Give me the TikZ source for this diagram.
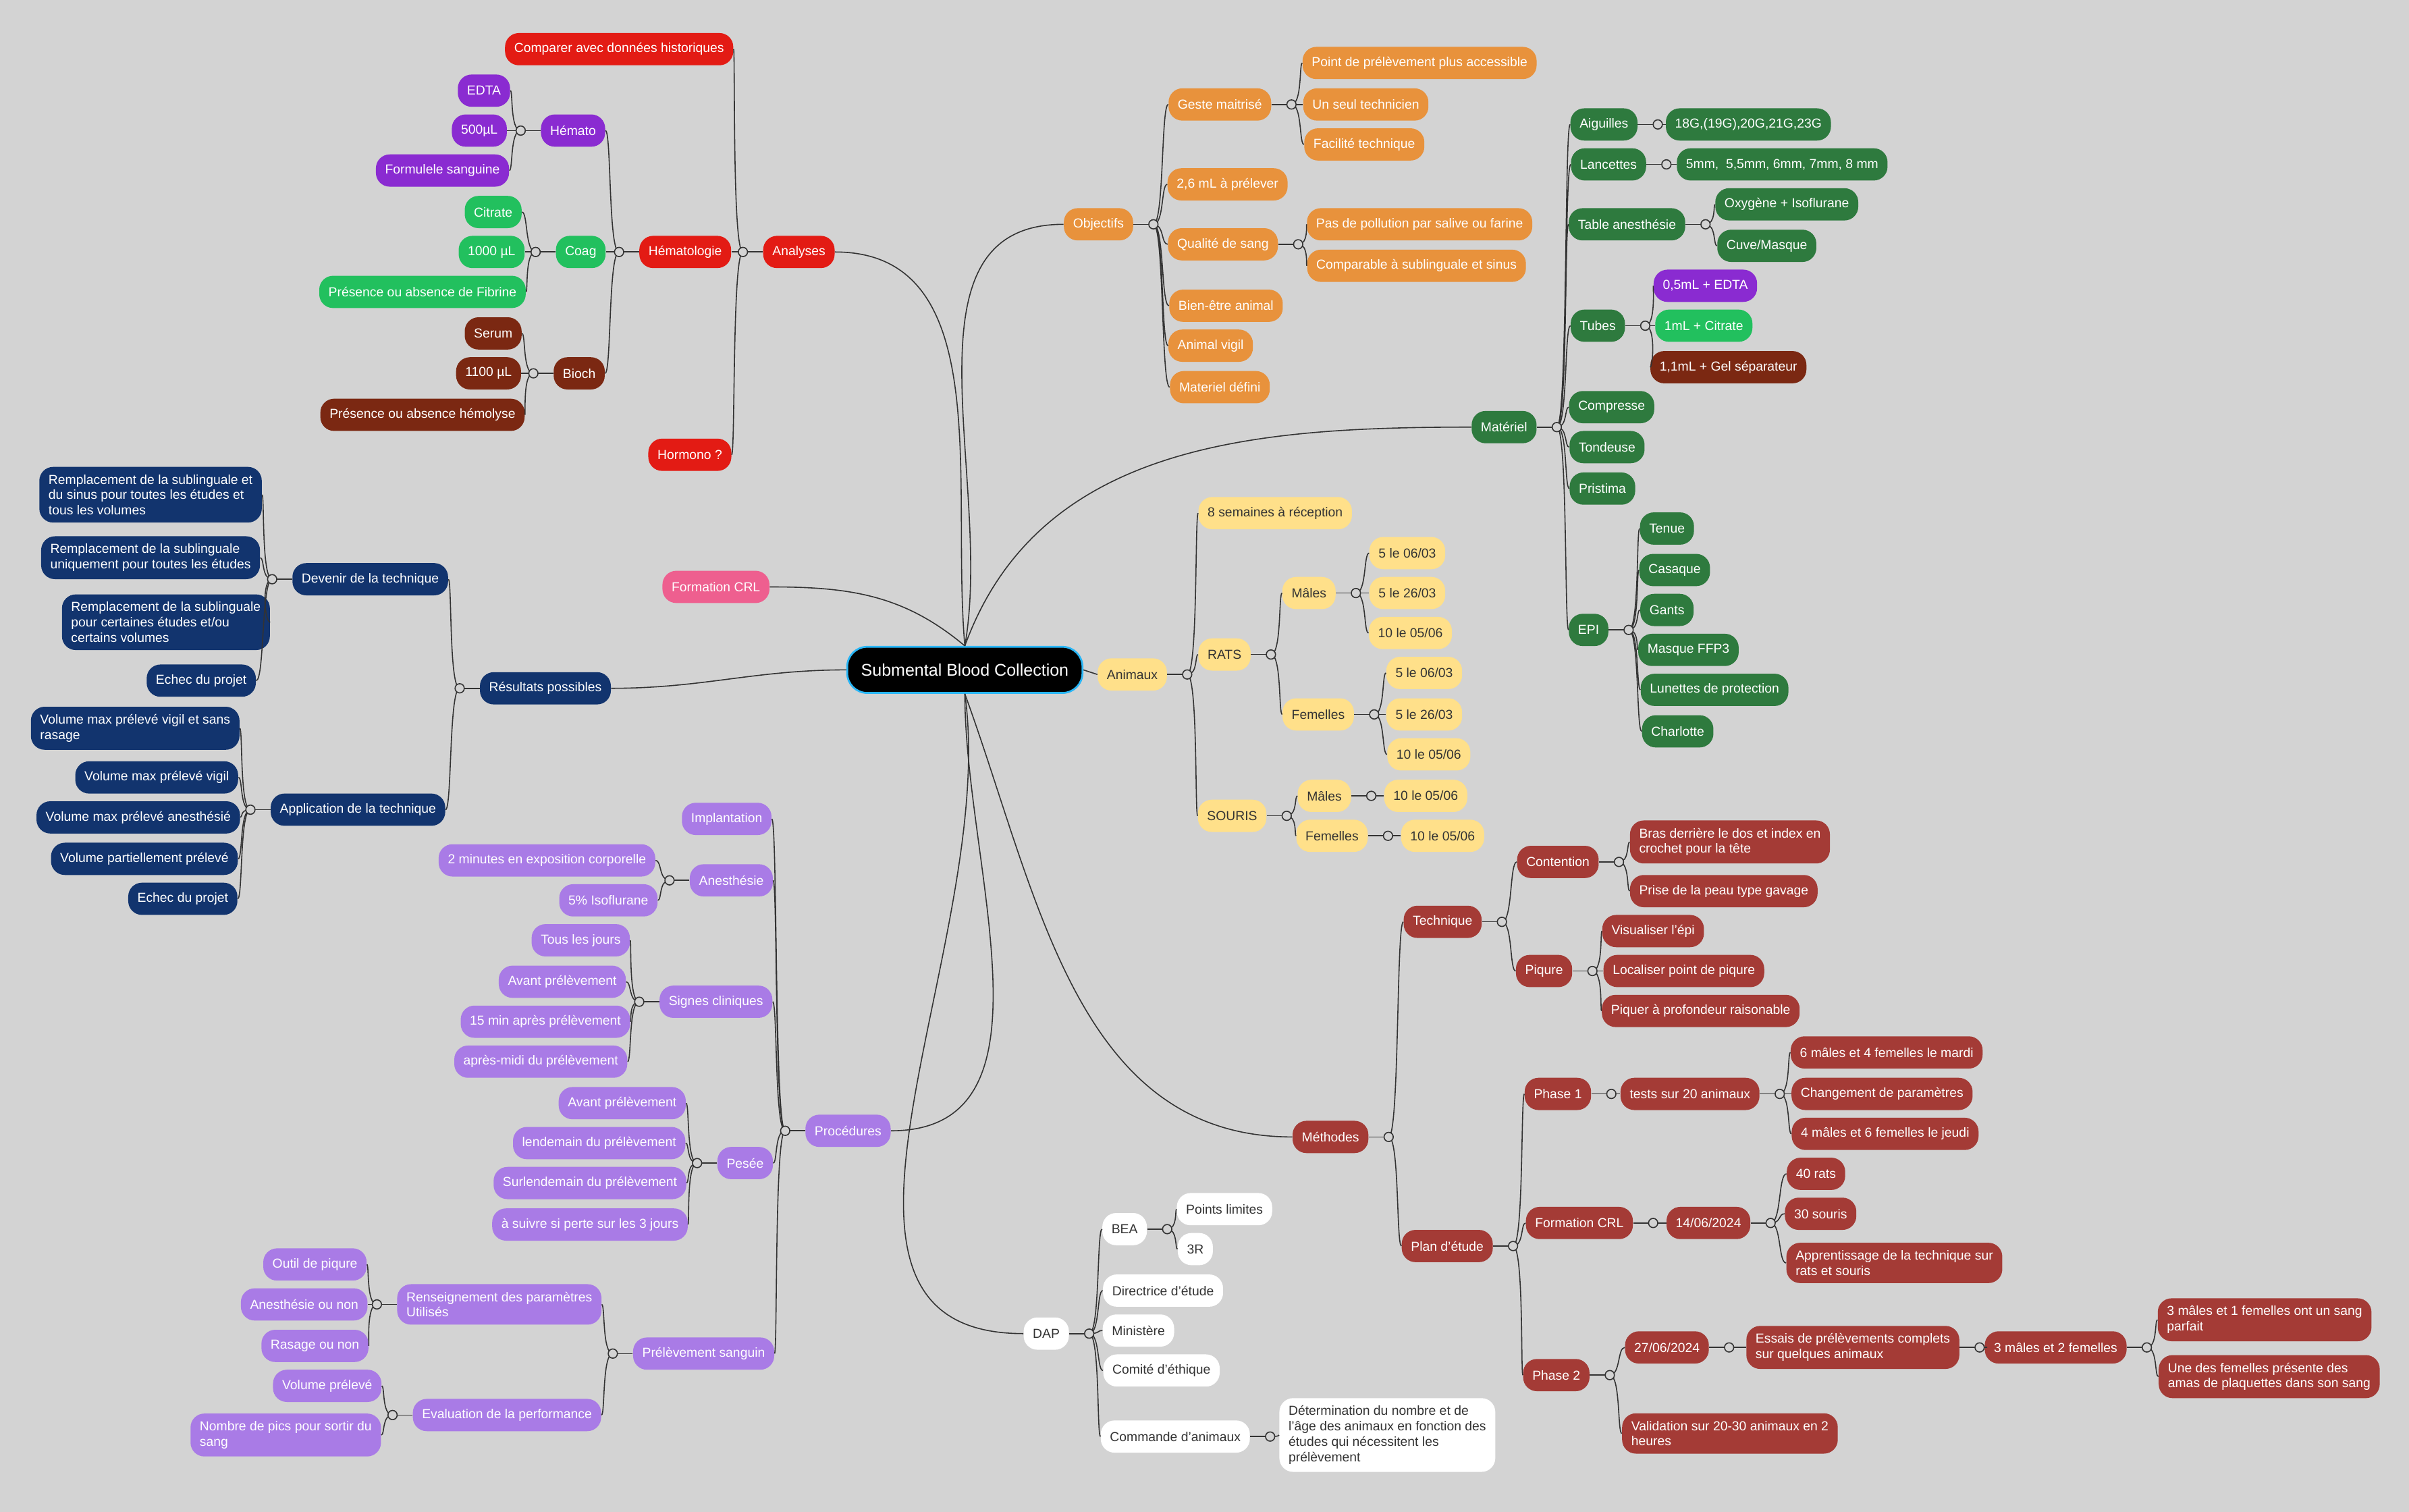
\documentclass[tikz,border=0pt]{standalone}
\usepackage{fontspec}
\setmainfont{Liberation Sans}
\usetikzlibrary{calc}
\definecolor{bgc}{HTML}{D3D3D3}
\definecolor{cRed}{HTML}{E31B14}
\definecolor{cHem}{HTML}{8A2BD1}
\definecolor{cCoa}{HTML}{22C05E}
\definecolor{cBio}{HTML}{7B2812}
\definecolor{cOrg}{HTML}{E8923C}
\definecolor{cMat}{HTML}{2E7A3E}
\definecolor{cYel}{HTML}{FFE08A}
\definecolor{cNav}{HTML}{12346E}
\definecolor{cPnk}{HTML}{EE5F8F}
\definecolor{cLpu}{HTML}{A97BE6}
\definecolor{cMrd}{HTML}{A43B36}
\definecolor{cLin}{HTML}{333333}
\definecolor{cTxt}{HTML}{333333}
\tikzset{
 n/.style={rounded corners=9pt, inner xsep=6pt, inner ysep=5pt, minimum height=21pt, font=\fontsize{8.5}{10}\selectfont, text=white, align=left},
 R/.style={n,fill=cRed}, H/.style={n,fill=cHem}, C/.style={n,fill=cCoa}, B/.style={n,fill=cBio},
 O/.style={n,fill=cOrg}, M/.style={n,fill=cMat}, Y/.style={n,fill=cYel,text=cTxt},
 N/.style={n,fill=cNav}, P/.style={n,fill=cPnk}, L/.style={n,fill=cLpu}, D/.style={n,fill=cMrd},
 W/.style={n,fill=white,text=cTxt},
 conn/.style={draw=cLin,line width=0.7pt},
 hubc/.style={draw=cLin,fill=bgc,line width=0.7pt}
}
\newcommand\hubR[2]{%
 \draw[conn] (#1.east) -- ++(13,0) coordinate (h#1);
 \foreach \c in {#2} {\draw[conn] (h#1) .. controls ($(h#1)+(7,0)$) and ($(h#1|-\c.west)+(5,0)$) .. (\c.west);}
 \draw[hubc] (h#1) circle (3);}
\newcommand\hubL[2]{%
 \draw[conn] (#1.west) -- ++(-13,0) coordinate (h#1);
 \foreach \c in {#2} {\draw[conn] (h#1) .. controls ($(h#1)+(-7,0)$) and ($(h#1|-\c.east)+(-5,0)$) .. (\c.east);}
 \draw[hubc] (h#1) circle (3);}
\begin{document}
\begin{tikzpicture}[x=1pt,y=1pt]
\useasboundingbox[fill=bgc] (0,0) rectangle (1568,-984);
\node[n,fill=black,draw={rgb,255:red,41;green,182;blue,246},line width=1.2pt,rounded corners=13pt,minimum height=30pt,font=\fontsize{11}{13}\selectfont,inner xsep=9pt] (root) at (628,-436) {Submental Blood Collection};
% ---- Analyses
\node[R] (an) at (520,-164) {Analyses};
\node[R] (hem) at (446,-164) {Hématologie};
\node[R] (cmp) at (403,-32) {Comparer avec données historiques};
\node[R] (hor) at (449,-296) {Hormono ?};
\node[H] (hm) at (373,-85) {Hémato};
\node[C] (cg) at (378,-164) {Coag};
\node[B] (bi) at (377,-243) {Bioch};
\node[H] (h1) at (315,-59) {EDTA};
\node[H] (h2) at (312,-85) {500µL};
\node[H] (h3) at (288,-111) {Formulele sanguine};
\node[C] (c1) at (321,-138) {Citrate};
\node[C] (c2) at (320,-164) {1000 µL};
\node[C] (c3) at (275,-190) {Présence ou absence de Fibrine};
\node[B] (b1) at (321,-217) {Serum};
\node[B] (b2) at (318,-243) {1100 µL};
\node[B] (b3) at (275,-270) {Présence ou absence hémolyse};
\hubL{an}{hem,cmp,hor}
\hubL{hem}{hm,cg,bi}
\hubL{hm}{h1,h2,h3}
\hubL{cg}{c1,c2,c3}
\hubL{bi}{b1,b2,b3}
% ---- Formation CRL
\node[P] (crl) at (466,-382) {Formation CRL};
% ---- Resultats
\node[N] (res) at (355,-448) {Résultats possibles};
\node[N] (dev) at (241,-377) {Devenir de la technique};
\node[N] (app) at (233,-527) {Application de la technique};
\node[N] (d1) at (98,-322) {Remplacement de la sublinguale et\\du sinus pour toutes les études et\\tous les volumes};
\node[N] (d2) at (98,-363) {Remplacement de la sublinguale\\uniquement pour toutes les études};
\node[N] (d3) at (108,-405) {Remplacement de la sublinguale\\pour certaines études et/ou\\certains volumes};
\node[N] (d4) at (131,-443) {Echec du projet};
\node[N] (p1) at (88,-474) {Volume max prélevé vigil et sans\\rasage};
\node[N] (p2) at (102,-506) {Volume max prélevé vigil};
\node[N] (p3) at (90,-532) {Volume max prélevé anesthésié};
\node[N] (p4) at (94,-559) {Volume partiellement prélevé};
\node[N] (p5) at (119,-585) {Echec du projet};
\hubL{res}{dev,app}
\hubL{dev}{d1,d2,d3,d4}
\hubL{app}{p1,p2,p3,p4,p5}
% ---- Procedures
\node[L] (pro) at (552,-736) {Procédures};
\node[L] (imp) at (473,-533) {Implantation};
\node[L] (ane) at (476,-573) {Anesthésie};
\node[L] (sig) at (466,-652) {Signes cliniques};
\node[L] (pes) at (485,-757) {Pesée};
\node[L] (prs) at (458,-881) {Prélèvement sanguin};
\node[L] (a1) at (356,-560) {2 minutes en exposition corporelle};
\node[L] (a2) at (396,-586) {5\% Isoflurane};
\node[L] (s1) at (378,-612) {Tous les jours};
\node[L] (s2) at (366,-639) {Avant prélèvement};
\node[L] (s3) at (355,-665) {15 min après prélèvement};
\node[L] (s4) at (352,-691) {après-midi du prélèvement};
\node[L] (e1) at (405,-718) {Avant prélèvement};
\node[L] (e2) at (390,-744) {lendemain du prélèvement};
\node[L] (e3) at (384,-770) {Surlendemain du prélèvement};
\node[L] (e4) at (384,-797) {à suivre si perte sur les 3 jours};
\node[L] (ren) at (325,-849) {Renseignement des paramètres\\Utilisés};
\node[L] (eva) at (330,-921) {Evaluation de la performance};
\node[L] (r1) at (205,-823) {Outil de piqure};
\node[L] (r2) at (198,-849) {Anesthésie ou non};
\node[L] (r3) at (205,-876) {Rasage ou non};
\node[L] (v1) at (213,-902) {Volume prélevé};
\node[L] (v2) at (186,-934) {Nombre de pics pour sortir du\\sang};
\hubL{pro}{imp,ane,sig,pes,prs}
\hubL{ane}{a1,a2}
\hubL{sig}{s1,s2,s3,s4}
\hubL{pes}{e1,e2,e3,e4}
\hubL{prs}{ren,eva}
\hubL{ren}{r1,r2,r3}
\hubL{eva}{v1,v2}
% ---- Objectifs
\node[O] (ob) at (715,-146) {Objectifs};
\node[O] (o1) at (794,-68) {Geste maitrisé};
\node[O] (o2) at (799,-120) {2,6 mL à prélever};
\node[O] (o3) at (796,-159) {Qualité de sang};
\node[O] (o4) at (798,-199) {Bien-être animal};
\node[O] (o5) at (788,-225) {Animal vigil};
\node[O] (o6) at (794,-252) {Materiel défini};
\node[O] (g1) at (924,-41) {Point de prélèvement plus accessible};
\node[O] (g2) at (889,-68) {Un seul technicien};
\node[O] (g3) at (888,-94) {Facilité technique};
\node[O] (q1) at (924,-146) {Pas de pollution par salive ou farine};
\node[O] (q2) at (922,-173) {Comparable à sublinguale et sinus};
\hubR{ob}{o1,o2,o3,o4,o5,o6}
\hubR{o1}{g1,g2,g3}
\hubR{o3}{q1,q2}
% ---- Materiel
\node[M] (mat) at (979,-278) {Matériel};
\node[M] (m1) at (1044,-81) {Aiguilles};
\node[M] (m2) at (1047,-107) {Lancettes};
\node[M] (m3) at (1059,-146) {Table anesthésie};
\node[M] (m4) at (1040,-212) {Tubes};
\node[M] (m5) at (1049,-265) {Compresse};
\node[M] (m6) at (1046,-291) {Tondeuse};
\node[M] (m7) at (1043,-318) {Pristima};
\node[M] (m8) at (1034,-410) {EPI};
\node[M] (ai) at (1138,-81) {18G,(19G),20G,21G,23G};
\node[M] (la) at (1160,-107) {5mm,\ \ 5,5mm, 6mm, 7mm, 8 mm};
\node[M] (t1) at (1163,-133) {Oxygène + Isoflurane};
\node[M] (t2) at (1150,-160) {Cuve/Masque};
\node[H] (u1) at (1110,-186) {0,5mL + EDTA};
\node[C] (u2) at (1109,-212) {1mL + Citrate};
\node[B] (u3) at (1125,-239) {1,1mL + Gel séparateur};
\node[M] (ep1) at (1085,-344) {Tenue};
\node[M] (ep2) at (1090,-371) {Casaque};
\node[M] (ep3) at (1085,-397) {Gants};
\node[M] (ep4) at (1099,-423) {Masque FFP3};
\node[M] (ep5) at (1116,-449) {Lunettes de protection};
\node[M] (ep6) at (1092,-476) {Charlotte};
\hubR{mat}{m1,m2,m3,m4,m5,m6,m7,m8}
\hubR{m1}{ai}
\hubR{m2}{la}
\hubR{m3}{t1,t2}
\hubR{m4}{u1,u2,u3}
\hubR{m8}{ep1,ep2,ep3,ep4,ep5,ep6}
% ---- Animaux
\node[Y] (ani) at (737,-439) {Animaux};
\node[Y] (y0) at (830,-334) {8 semaines à réception};
\node[Y] (rat) at (797,-426) {RATS};
\node[Y] (sou) at (802,-531) {SOURIS};
\node[Y] (rm) at (852,-386) {Mâles};
\node[Y] (rf) at (858,-465) {Femelles};
\node[Y] (rm1) at (916,-360) {5 le 06/03};
\node[Y] (rm2) at (916,-386) {5 le 26/03};
\node[Y] (rm3) at (918,-412) {10 le 05/06};
\node[Y] (rf1) at (927,-438) {5 le 06/03};
\node[Y] (rf2) at (927,-465) {5 le 26/03};
\node[Y] (rf3) at (930,-491) {10 le 05/06};
\node[Y] (sm) at (862,-518) {Mâles};
\node[Y] (sf) at (867,-544) {Femelles};
\node[Y] (sm1) at (928,-518) {10 le 05/06};
\node[Y] (sf1) at (939,-544) {10 le 05/06};
\hubR{ani}{y0,rat,sou}
\hubR{rat}{rm,rf}
\hubR{rm}{rm1,rm2,rm3}
\hubR{rf}{rf1,rf2,rf3}
\hubR{sou}{sm,sf}
\hubR{sm}{sm1}
\hubR{sf}{sf1}
% ---- Methodes
\node[D] (met) at (866,-740) {Méthodes};
\node[D] (tec) at (939,-600) {Technique};
\node[D] (pla) at (942,-811) {Plan d'étude};
\node[D] (con) at (1014,-561) {Contention};
\node[D] (piq) at (1005,-632) {Piqure};
\node[D] (co1) at (1126,-548) {Bras derrière le dos et index en\\crochet pour la tête};
\node[D] (co2) at (1122,-580) {Prise de la peau type gavage};
\node[D] (pq1) at (1076,-606) {Visualiser l'épi};
\node[D] (pq2) at (1096,-632) {Localiser point de piqure};
\node[D] (pq3) at (1107,-658) {Piquer à profondeur raisonable};
\node[D] (ph1) at (1014,-712) {Phase 1};
\node[D] (fcr) at (1028,-796) {Formation CRL};
\node[D] (ph2) at (1013,-895) {Phase 2};
\node[D] (tst) at (1100,-712) {tests sur 20 animaux};
\node[D] (ts1) at (1228,-685) {6 mâles et 4 femelles le mardi};
\node[D] (ts2) at (1225,-712) {Changement de paramètres};
\node[D] (ts3) at (1227,-738) {4 mâles et 6 femelles le jeudi};
\node[D] (dt) at (1112,-796) {14/06/2024};
\node[D] (f1) at (1182,-764) {40 rats};
\node[D] (f2) at (1185,-790) {30 souris};
\node[D] (f3) at (1233,-822) {Apprentissage de la technique sur\\rats et souris};
\node[D] (d27) at (1085,-877) {27/06/2024};
\node[D] (val) at (1126,-933) {Validation sur 20-30 animaux en 2\\heures};
\node[D] (ess) at (1206,-877) {Essais de prélèvements complets\\sur quelques animaux};
\node[D] (m32) at (1338,-877) {3 mâles et 2 femelles};
\node[D] (z1) at (1474,-859) {3 mâles et 1 femelles ont un sang\\parfait};
\node[D] (z2) at (1477,-896) {Une des femelles présente des\\amas de plaquettes dans son sang};
\hubR{met}{tec,pla}
\hubR{tec}{con,piq}
\hubR{con}{co1,co2}
\hubR{piq}{pq1,pq2,pq3}
\hubR{pla}{ph1,fcr,ph2}
\hubR{ph1}{tst}
\hubR{tst}{ts1,ts2,ts3}
\hubR{fcr}{dt}
\hubR{dt}{f1,f2,f3}
\hubR{ph2}{d27,val}
\hubR{d27}{ess}
\hubR{ess}{m32}
\hubR{m32}{z1,z2}
% ---- DAP
\node[W] (dap) at (681,-868) {DAP};
\node[W] (bea) at (732,-800) {BEA};
\node[W] (w2) at (757,-840) {Directrice d'étude};
\node[W] (w3) at (741,-866) {Ministère};
\node[W] (w4) at (756,-892) {Comité d'éthique};
\node[W] (w5) at (765,-935) {Commande d'animaux};
\node[W] (bp) at (797,-787) {Points limites};
\node[W] (b3) at (778,-813) {3R};
\node[W] (det) at (903,-934) {Détermination du nombre et de\\l'âge des animaux en fonction des\\études qui nécessitent les\\prélèvement};
\hubR{dap}{bea,w2,w3,w4,w5}
\hubR{bea}{bp,b3}
\hubR{w5}{det}
% ---- root connectors
\draw[conn] (root.north) to[out=95,in=0] (an.east);
\draw[conn] (root.north) to[out=140,in=0] (crl.east);
\draw[conn] (root.north) to[out=80,in=180] (ob.west);
\draw[conn] (root.north) to[out=70,in=180] (mat.west);
\draw[conn] (root.west) to[out=180,in=0] (res.east);
\draw[conn] (root.east) -- (ani.west);
\draw[conn] (root.south) to[out=-90,in=0] (pro.east);
\draw[conn] (root.south) to[out=-82,in=180] (dap.west);
\draw[conn] (root.south) to[out=-70,in=180] (met.west);
\end{tikzpicture}
\end{document}
